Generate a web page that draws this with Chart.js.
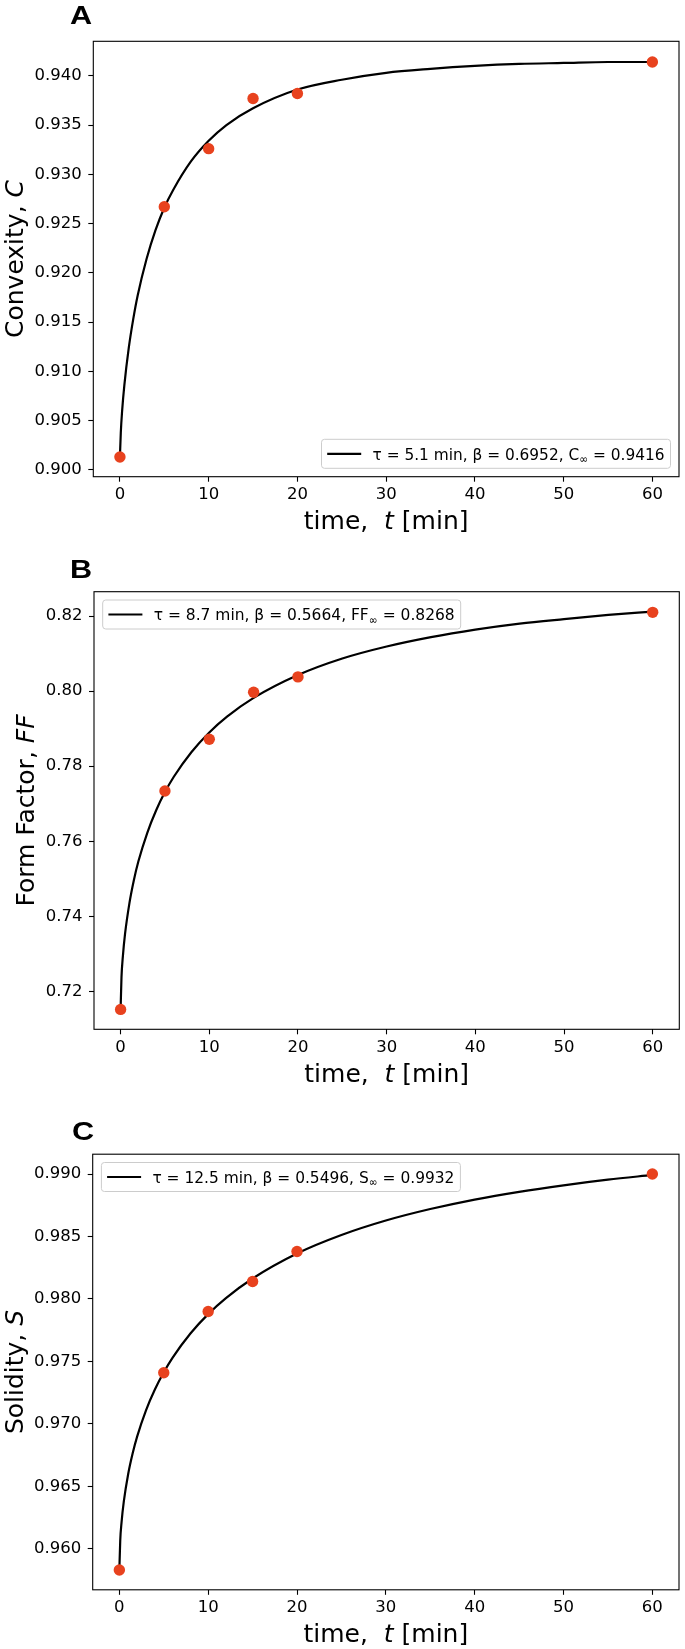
<!DOCTYPE html>
<html>
<head>
<meta charset="utf-8">
<script src="https://cdn.jsdelivr.net/npm/chart.js@4.4.1/dist/chart.umd.min.js"></script>
<style>
  html, body { margin: 0; padding: 0; background: #fff; }
  body { width: 685px; height: 1649px; position: relative; overflow: hidden; }
  .wrap { position: absolute; left: 0; width: 685px; }
  .panel-label { position: absolute; font: bold 25.5px 'Liberation Sans', Arial, sans-serif; line-height: 1; color: #000; transform-origin: left top; transform: scaleX(1.2); }
</style>
</head>
<body>
<div class="wrap" style="top:0px;height:540px"><canvas id="chartA"></canvas></div>
<div class="wrap" style="top:540px;height:560px"><canvas id="chartB"></canvas></div>
<div class="wrap" style="top:1100px;height:549px"><canvas id="chartC"></canvas></div>
<div class="panel-label" style="left:70px;top:3.4px">A</div>
<div class="panel-label" style="left:69.7px;top:556.7px">B</div>
<div class="panel-label" style="left:72px;top:1119.2px">C</div>
<script>
// ---------------- data ----------------
const timePoints = [0, 5, 10, 15, 20, 60];
const convexityPoints = [0.9013, 0.9267, 0.9326, 0.9377, 0.9382, 0.9414];
const formFactorPoints = [0.7152, 0.7734, 0.7872, 0.7997, 0.8038, 0.8210];
const solidityPoints = [0.9583, 0.9741, 0.9790, 0.9814, 0.9838, 0.9900];

const fitTime = [0, 0.1, 0.25, 0.5, 1, 1.5, 2, 3, 4, 5, 6, 8, 10, 12, 15, 20, 25, 30, 35, 40, 45, 50, 55, 60];
const convexityFit = [0.9013, 0.9038, 0.9060, 0.9086, 0.9124, 0.9153, 0.9177, 0.9214, 0.9243, 0.9266, 0.9284, 0.9313, 0.9334, 0.9350, 0.9367, 0.9386, 0.9396, 0.9403, 0.9407, 0.9410, 0.9412, 0.9413, 0.9414, 0.9414];
const formFactorFit = [0.7152, 0.7238, 0.7292, 0.7353, 0.7436, 0.7497, 0.7546, 0.7622, 0.7682, 0.7731, 0.7772, 0.7838, 0.7890, 0.7932, 0.7982, 0.8043, 0.8087, 0.8119, 0.8144, 0.8164, 0.8180, 0.8192, 0.8203, 0.8212];
const solidityFit = [0.9583, 0.96067, 0.96214, 0.96377, 0.96601, 0.96765, 0.96898, 0.97109, 0.97275, 0.97413, 0.97531, 0.97724, 0.97879, 0.98007, 0.98164, 0.98364, 0.98512, 0.98628, 0.98720, 0.98796, 0.98858, 0.98910, 0.98955, 0.98993];

const timeTicks = [0, 10, 20, 30, 40, 50, 60];
const timeTickLabels = ['0', '10', '20', '30', '40', '50', '60'];
const convexityTicks = [0.900, 0.905, 0.910, 0.915, 0.920, 0.925, 0.930, 0.935, 0.940];
const convexityTickLabels = ['0.900', '0.905', '0.910', '0.915', '0.920', '0.925', '0.930', '0.935', '0.940'];
const formFactorTicks = [0.72, 0.74, 0.76, 0.78, 0.80, 0.82];
const formFactorTickLabels = ['0.72', '0.74', '0.76', '0.78', '0.80', '0.82'];
const solidityTicks = [0.960, 0.965, 0.970, 0.975, 0.980, 0.985, 0.990];
const solidityTickLabels = ['0.960', '0.965', '0.970', '0.975', '0.980', '0.985', '0.990'];

// ---------------- style ----------------
const POINT_COLOR = '#E8421E';
const FONT = "'DejaVu Sans', 'Noto Sans', sans-serif";
Chart.defaults.font.family = FONT;
Chart.defaults.color = '#000';

function fontStr(size, italic, weight) {
  return (italic ? 'italic ' : '') + (weight || 'normal') + ' ' + size + 'px ' + FONT;
}

function drawParts(ctx, parts, x, y, size, align) {
  let widths = parts.map(p => {
    ctx.font = fontStr(p.sub ? size * 0.7 : size, p.italic);
    return ctx.measureText(p.text).width;
  });
  const total = widths.reduce((a, b) => a + b, 0);
  let cx = align === 'center' ? x - total / 2 : x;
  ctx.textBaseline = 'alphabetic';
  ctx.textAlign = 'left';
  parts.forEach((p, i) => {
    ctx.font = fontStr(p.sub ? size * 0.7 : size, p.italic);
    ctx.fillText(p.text, cx, y + (p.sub ? size * 0.22 : 0));
    cx += widths[i];
  });
  return total;
}

function measureParts(ctx, parts, size) {
  return parts.reduce((acc, p) => {
    ctx.font = fontStr(p.sub ? size * 0.7 : size, p.italic);
    return acc + ctx.measureText(p.text).width;
  }, 0);
}

function makeDecor(cfg) {
  return {
    id: 'panelDecor',
    afterDraw(chart) {
      const ctx = chart.ctx;
      const ca = chart.chartArea;
      ctx.save();
      // frame
      ctx.strokeStyle = '#000';
      ctx.lineWidth = 1.1;
      ctx.strokeRect(ca.left, ca.top, ca.right - ca.left, ca.bottom - ca.top);

      // legend
      const L = cfg.legend;
      const fs = 16;
      const boxH = 29, lineLen = 34, padL = 5.7, textOff = 51, padR = 6;
      const boxW = textOff + L.textWidth + padR;
      let bx, by;
      if (L.corner === 'lower right') {
        bx = ca.right - 8.5 - boxW;
        by = ca.bottom - 8.4 - boxH;
      } else {
        bx = ca.left + 8.7;
        by = ca.top + 8.3;
      }
      ctx.beginPath();
      if (ctx.roundRect) ctx.roundRect(bx, by, boxW, boxH, 3); else ctx.rect(bx, by, boxW, boxH);
      ctx.fillStyle = 'rgba(255,255,255,0.8)';
      ctx.fill();
      ctx.strokeStyle = '#cccccc';
      ctx.lineWidth = 1;
      ctx.stroke();
      ctx.beginPath();
      ctx.strokeStyle = '#000';
      ctx.lineWidth = 2.2;
      ctx.moveTo(bx + padL, by + boxH / 2);
      ctx.lineTo(bx + padL + lineLen, by + boxH / 2);
      ctx.stroke();
      ctx.fillStyle = '#000';
      const natural = measureParts(ctx, L.parts, fs);
      const sx = L.textWidth / natural;
      ctx.save();
      ctx.translate(bx + textOff, by + boxH / 2 + 5.8);
      ctx.scale(sx, 1);
      drawParts(ctx, L.parts, 0, 0, fs, 'left');
      ctx.restore();

      // x title
      ctx.fillStyle = '#000';
      drawParts(ctx, cfg.xTitle, (ca.left + ca.right) / 2, ca.bottom + 52.6, 25, 'center');

      // y title
      ctx.save();
      ctx.translate(cfg.yTitleX, (ca.top + ca.bottom) / 2);
      ctx.rotate(-Math.PI / 2);
      drawParts(ctx, cfg.yTitle, 0, 0, 25, 'center');
      ctx.restore();

      ctx.restore();
    }
  };
}

function buildPanel(id, geo, s) {
  const canvas = document.getElementById(id);
  const W = 685, H = geo.height;
  canvas.width = W; canvas.height = H;
  canvas.style.width = W + 'px'; canvas.style.height = H + 'px';
  const xAxisH = 50;
  return new Chart(canvas, {
    type: 'scatter',
    data: {
      datasets: [
        {
          label: 'measured',
          data: s.px.map((t, i) => ({ x: t, y: s.py[i] })),
          pointRadius: 5.7, pointHoverRadius: 5.7,
          backgroundColor: POINT_COLOR, borderColor: POINT_COLOR, borderWidth: 0,
          showLine: false
        },
        {
          label: 'fit',
          data: s.fx.map((t, i) => ({ x: t, y: s.fy[i] })),
          showLine: true, pointRadius: 0, pointHoverRadius: 0,
          borderColor: '#000', borderWidth: 2.2,
          cubicInterpolationMode: 'monotone', fill: false
        }
      ]
    },
    options: {
      responsive: false, animation: false, devicePixelRatio: 1,
      events: [],
      layout: { padding: { left: 0, top: geo.top, right: W - geo.right, bottom: H - geo.bottom - xAxisH } },
      plugins: { legend: { display: false }, tooltip: { enabled: false } },
      scales: {
        x: {
          type: 'linear', position: 'bottom', min: -3, max: 63,
          afterBuildTicks: sc => { sc.ticks = s.xTicks.map(v => ({ value: v })); },
          afterFit: sc => { sc.height = xAxisH; sc.paddingLeft = 0; sc.paddingRight = 0; },
          ticks: {
            font: { size: 16.5 }, color: '#000', padding: 3.5, maxRotation: 0, autoSkip: false,
            callback: (v, i) => s.xLabels[i]
          },
          grid: { drawOnChartArea: false, drawTicks: true, tickLength: 5, tickColor: '#000', tickWidth: 1.1 },
          border: { display: false }
        },
        y: {
          type: 'linear', position: 'left', min: s.yMin, max: s.yMax,
          afterBuildTicks: sc => { sc.ticks = s.yTicks.map(v => ({ value: v })); },
          afterFit: sc => { sc.width = geo.left; sc.paddingTop = 0; sc.paddingBottom = 0; },
          ticks: {
            font: { size: 16.5 }, color: '#000', padding: 6.5, autoSkip: false,
            callback: (v, i) => s.yLabels[i]
          },
          grid: { drawOnChartArea: false, drawTicks: true, tickLength: 5, tickColor: '#000', tickWidth: 1.1 },
          border: { display: false }
        }
      }
    },
    plugins: [makeDecor(s.decor)]
  });
}

const xTitleParts = [{ text: 'time,  ' }, { text: 't', italic: true }, { text: ' [min]' }];

buildPanel('chartA', { height: 540, left: 93.3, right: 679, top: 41.3, bottom: 476.7 }, {
  px: timePoints, py: convexityPoints, fx: fitTime, fy: convexityFit,
  xTicks: timeTicks, xLabels: timeTickLabels, yTicks: convexityTicks, yLabels: convexityTickLabels,
  yMin: 0.8993, yMax: 0.9435,
  decor: {
    xTitle: xTitleParts,
    yTitle: [{ text: 'Convexity, ' }, { text: 'C', italic: true }],
    yTitleX: 23,
    legend: {
      corner: 'lower right', textWidth: 292,
      parts: [{ text: 'τ = 5.1 min, β = 0.6952, C' }, { text: '∞', sub: true }, { text: ' = 0.9416' }]
    }
  }
});

buildPanel('chartB', { height: 560, left: 94, right: 679.5, top: 51.7, bottom: 489.3 }, {
  px: timePoints, py: formFactorPoints, fx: fitTime, fy: formFactorFit,
  xTicks: timeTicks, xLabels: timeTickLabels, yTicks: formFactorTicks, yLabels: formFactorTickLabels,
  yMin: 0.7099, yMax: 0.8265,
  decor: {
    xTitle: xTitleParts,
    yTitle: [{ text: 'Form Factor, ' }, { text: 'FF', italic: true }],
    yTitleX: 34,
    legend: {
      corner: 'upper left', textWidth: 301,
      parts: [{ text: 'τ = 8.7 min, β = 0.5664, FF' }, { text: '∞', sub: true }, { text: ' = 0.8268' }]
    }
  }
});

buildPanel('chartC', { height: 549, left: 92.7, right: 679, top: 54.2, bottom: 489.8 }, {
  px: timePoints, py: solidityPoints, fx: fitTime, fy: solidityFit,
  xTicks: timeTicks, xLabels: timeTickLabels, yTicks: solidityTicks, yLabels: solidityTickLabels,
  yMin: 0.95672, yMax: 0.99159,
  decor: {
    xTitle: xTitleParts,
    yTitle: [{ text: 'Solidity, ' }, { text: 'S', italic: true }],
    yTitleX: 23,
    legend: {
      corner: 'upper left', textWidth: 302,
      parts: [{ text: 'τ = 12.5 min, β = 0.5496, S' }, { text: '∞', sub: true }, { text: ' = 0.9932' }]
    }
  }
});
</script>
</body>
</html>
